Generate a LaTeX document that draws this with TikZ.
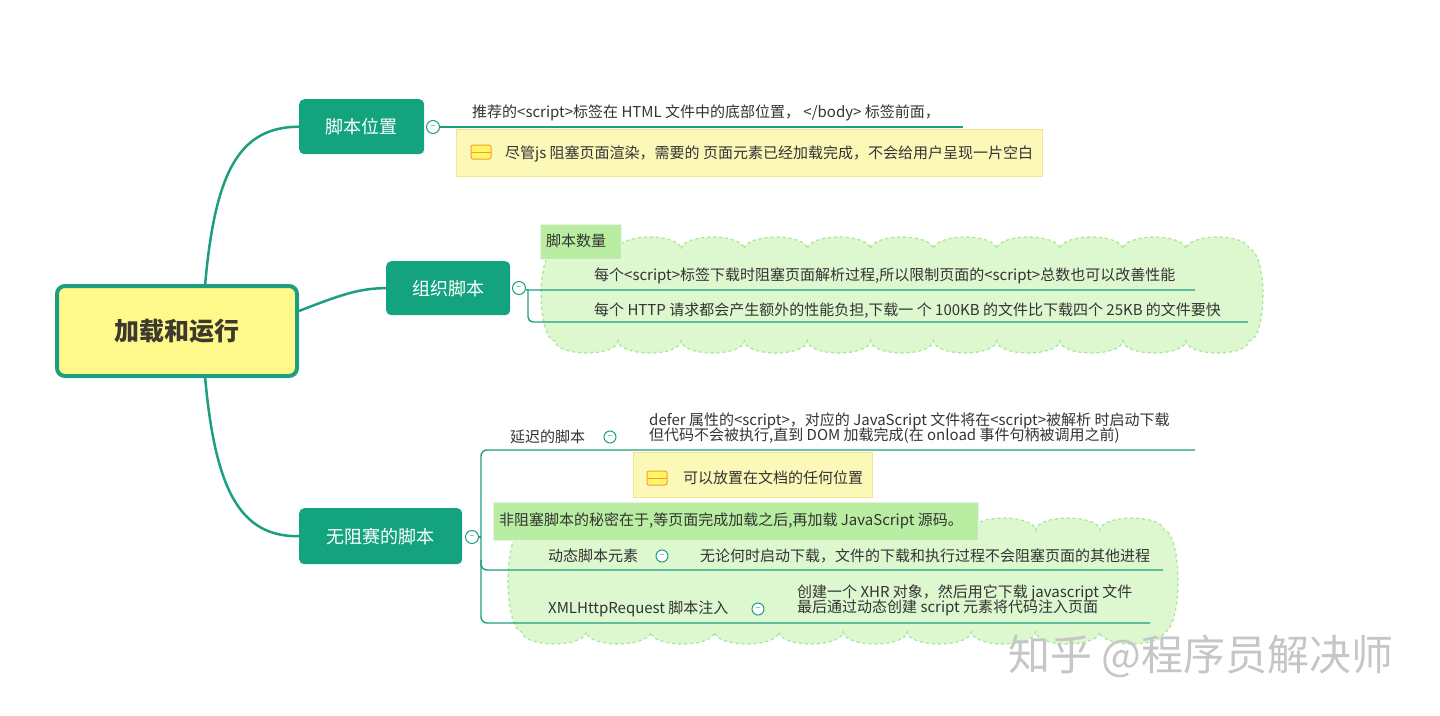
\documentclass[tikz,border=0pt]{standalone}
\usepackage{fontspec}
\setmainfont{Noto Sans CJK SC}
\usetikzlibrary{calc}
\definecolor{tg}{HTML}{14A37F}
\definecolor{ln}{HTML}{1E9E80}
\definecolor{ny}{HTML}{FCF8B8}
\definecolor{nyb}{HTML}{F2E58A}
\definecolor{cg}{HTML}{DDF7CF}
\definecolor{cgb}{HTML}{A9E497}
\definecolor{lg}{HTML}{B9EEA2}
\definecolor{tx}{HTML}{333333}
\tikzset{
  topic/.style={fill=tg,rounded corners=5pt,text=white,font=\fontsize{18}{20}\selectfont,anchor=north west,inner sep=0},
  col/.style={circle,draw=ln,fill=white,line width=1pt,minimum size=13pt,inner sep=0},
  br/.style={draw=ln,line width=1.4pt},
  lab/.style={text=tx,font=\fontsize{15}{18}\selectfont,anchor=west,inner sep=0,align=left},
  note/.style={fill=ny,draw=nyb,anchor=north west,inner sep=0},
  clsty/.style={fill=cg,draw=cgb,dashed,line width=1.2pt},
  lbox/.style={fill=lg,draw=lg!80!black!20,anchor=north west,inner sep=0}
}
\newcommand{\mycloud}[5]{%
  \pgfmathsetmacro{\cw}{(#3)/(#5)/2}%
  \draw[clsty] (#1,#2) foreach \i in {1,...,#5} { arc[start angle=180,end angle=0,x radius=\cw pt,y radius=12pt] }
     arc[start angle=90,end angle=-90,x radius=14pt,y radius=#4/2 pt]
     foreach \i in {1,...,#5} { arc[start angle=0,end angle=-180,x radius=\cw pt,y radius=12pt] }
     arc[start angle=270,end angle=90,x radius=14pt,y radius=#4/2 pt] -- cycle;}
\newcommand{\noteicon}[1]{\fill[rounded corners=2pt,fill=yellow!60,draw=orange!80,line width=1pt] ($#1+(-10,-7)$) rectangle ($#1+(10,7)$);\draw[orange!80,line width=1pt] ($#1+(-10,0)$)--($#1+(10,0)$);}
\begin{document}
\begin{tikzpicture}[x=1pt,y=-1pt]
\useasboundingbox (0,0) rectangle (1440,715);
\mycloud{555}{249}{694}{92}{11}
\mycloud{522}{530}{642}{102}{10}
\node[fill=yellow!45!white,draw=ln,line width=4pt,rounded corners=8pt,minimum width=240pt,minimum height=90pt,font=\fontsize{25}{28}\selectfont\bfseries,text=black!75!olive] (root) at (177,331) {加载和运行};
\node[topic,minimum width=125pt,minimum height=55pt] (t1) at (299,99) {脚本位置};
\node[topic,minimum width=124pt,minimum height=54pt] (t2) at (386,261) {组织脚本};
\node[topic,minimum width=163pt,minimum height=56pt] (t3) at (299,508) {无阻赛的脚本};
\draw[br,line width=2.5pt] (205,286) .. controls (215,170) and (240,127) .. (t1.west);
\draw[br,line width=2.5pt] (root.east) ++(0,-20) .. controls (340,295) and (360,288) .. (t2.west);
\draw[br,line width=2.5pt] (205,376) .. controls (215,490) and (240,537) .. (t3.west);
\coordinate (e1) at (963,127);
\node[col] (k1) at (433,127) {};
\draw[br] (k1) -- (e1);
\node[lab] (s1) at (472,113) {推荐的<script>标签在 HTML 文件中的底部位置， </body> 标签前面，};
\node[note,minimum width=586pt,minimum height=47pt] (n1) at (456,129) {};
\noteicon{(481,152)}
\node[lab] (n1t) at (505,154) {尽管js 阻塞页面渲染，需要的 页面元素已经加载完成，不会给用户呈现一片空白};
\node[lbox,minimum width=81pt,minimum height=35pt] (b2) at (540,224) {};
\node[lab] (b2t) at (546,241) {脚本数量};
\node[col] (k2) at (519,288) {};
\coordinate (e21) at (1195,290);
\coordinate (e22) at (1248,322);
\draw[br] (k2) -- (528,290) -- (e21);
\draw[br,rounded corners=5pt] (528,290) -- (528,322) -- (e22);
\node[lab] (s21) at (594,276) {每个<script>标签下载时阻塞页面解析过程,所以限制页面的<script>总数也可以改善性能};
\node[lab] (s22) at (594,311) {每个 HTTP 请求都会产生额外的性能负担,下载一 个 100KB 的文件比下载四个 25KB 的文件要快};
\node[col] (k3) at (472,537) {};
\coordinate (e31) at (1195,450);
\coordinate (e32) at (1163,570);
\coordinate (e33) at (1150,623);
\draw[br] (k3) -- (481,537);
\draw[br,rounded corners=6pt] (e31) -- (481,450) -- (481,570) -- (e32);
\draw[br,rounded corners=6pt] (481,560) -- (481,623) -- (e33);
\node[lab] (d1) at (510,437) {延迟的脚本};
\node[col,minimum size=12pt] (kd1) at (610,437) {};
\node[font=\fontsize{9}{9}\selectfont,text=ln,inner sep=0] at (kd1) {–};
\node[lab,anchor=west] (d1t) at (649,428) {defer 属性的<script>，对应的 JavaScript 文件将在<script>被解析 时启动下载\\[-3pt]但代码不会被执行,直到 DOM 加载完成(在 onload 事件句柄被调用之前)};
\node[note,minimum width=239pt,minimum height=45pt] (n3) at (633,452) {};
\noteicon{(657,478)}
\node[lab] (n3t) at (683,478) {可以放置在文档的任何位置};
\node[lbox,minimum width=485pt,minimum height=38pt] (b3) at (493,502) {};
\node[lab] (b3t) at (499,521) {非阻塞脚本的秘密在于,等页面完成加载之后,再加载 \textit{JavaScript} 源码。};
\node[lab] (d2) at (548,556) {动态脚本元素};
\node[col,minimum size=12pt] (kd2) at (662,556) {};
\node[font=\fontsize{9}{9}\selectfont,text=ln,inner sep=0] at (kd2) {–};
\node[lab] (d2t) at (700,556) {无论何时启动下载，文件的下载和执行过程不会阻塞页面的其他进程};
\node[lab] (d3) at (548,609) {XMLHttpRequest 脚本注入};
\node[col,minimum size=12pt] (kd3) at (758,609) {};
\node[font=\fontsize{9}{9}\selectfont,text=ln,inner sep=0] at (kd3) {–};
\node[lab] (d3t) at (797,600) {创建一个 XHR 对象，然后用它下载 javascript 文件\\[-3pt]最后通过动态创建 script 元素将代码注入页面};
\foreach \k in {k1,k2,k3} {\node[font=\fontsize{9}{9}\selectfont,text=ln,inner sep=0] at (\k) {–};}
\node[text=gray!45,font=\fontsize{42}{44}\selectfont,anchor=west,inner sep=0] (wm) at (1008,656) {知乎 @程序员解决师};
\end{tikzpicture}
\end{document}
